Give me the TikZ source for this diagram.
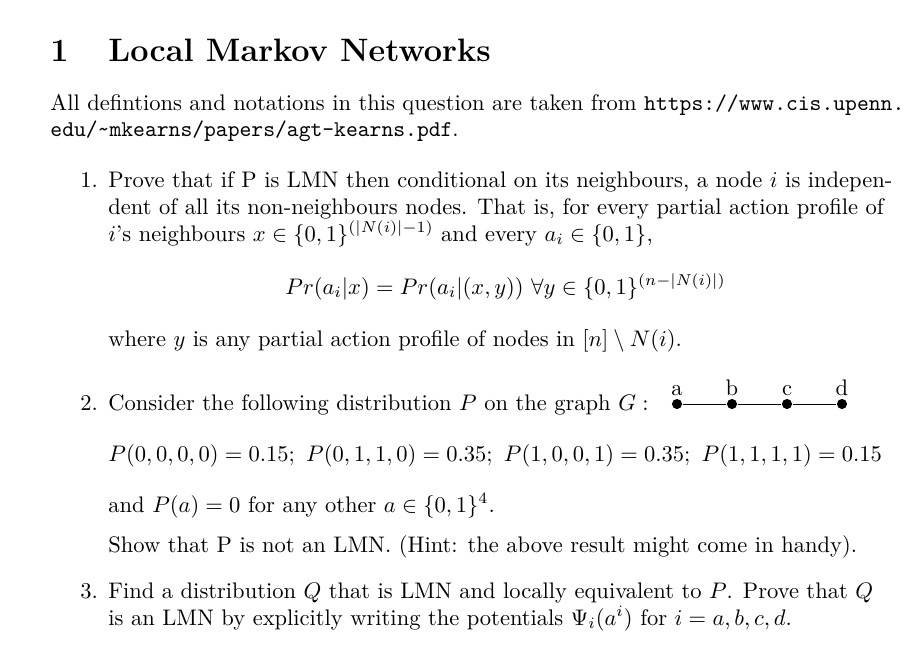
\documentclass[tikz,border=0pt]{standalone}
\usepackage{amsmath,amssymb}
\begin{document}
\begin{tikzpicture}[x=0.444pt,y=-0.444pt,
  ln/.style={anchor=base west,inner sep=0pt,font=\normalsize},
  dot/.style={circle,fill=black,inner sep=0pt,minimum size=4.5pt},
  lab/.style={anchor=base,inner sep=0pt,font=\normalsize}]
\useasboundingbox (0,0) rectangle (913,666);
\node[ln,font=\Large\bfseries] (t1) at (50,61) {1};
\node[ln,font=\Large\bfseries] (t2) at (108,61) {Local Markov Networks};
\node[ln] (l1) at (50,110) {All defintions and notations in this question are taken from \texttt{https://www.cis.upenn.}};
\node[ln] (l2) at (50,136) {\texttt{edu/\textasciitilde mkearns/papers/agt-kearns.pdf}.};
\node[ln] (n1) at (80,187) {1.};
\node[ln] (a1) at (108,187) {Prove that if P is LMN then conditional on its neighbours, a node $i$ is indepen-};
\node[ln] (a2) at (108,214) {dent of all its non-neighbours nodes. That is, for every partial action profile of};
\node[ln] (a3) at (108,241) {$i$'s neighbours $x\in\{0,1\}^{(|N(i)|-1)}$ and every $a_i\in\{0,1\}$,};
\node[ln] (a4) at (285,294) {$Pr(a_i|x)=Pr(a_i|(x,y))\ \forall y\in\{0,1\}^{(n-|N(i)|)}$};
\node[ln] (a5) at (108,346) {where $y$ is any partial action profile of nodes in $[n]\setminus N(i)$.};
\node[ln] (n2) at (80,410) {2.};
\node[ln] (b1) at (108,410) {Consider the following distribution $P$ on the graph $G:$};
\node[dot] (ga) at (677,404) {};
\node[dot] (gb) at (732,404) {};
\node[dot] (gc) at (787,404) {};
\node[dot] (gd) at (842,404) {};
\draw (ga) -- (gb) -- (gc) -- (gd);
\node[lab] at (677,395) {a};
\node[lab] at (732,395) {b};
\node[lab] at (787,395) {c};
\node[lab] at (842,395) {d};
\node[ln] (b2) at (108,461) {$P(0,0,0,0)=0.15;\ P(0,1,1,0)=0.35;\ P(1,0,0,1)=0.35;\ P(1,1,1,1)=0.15$};
\node[ln] (b3) at (108,512) {and $P(a)=0$ for any other $a\in\{0,1\}^4$.};
\node[ln] (b4) at (108,552) {Show that P is not an LMN. (Hint: the above result might come in handy).};
\node[ln] (n3) at (80,598) {3.};
\node[ln] (c1) at (108,598) {Find a distribution $Q$ that is LMN and locally equivalent to $P$. Prove that $Q$};
\node[ln] (c2) at (108,625) {is an LMN by explicitly writing the potentials $\Psi_i(a^i)$ for $i=a,b,c,d$.};
\end{tikzpicture}
\end{document}
